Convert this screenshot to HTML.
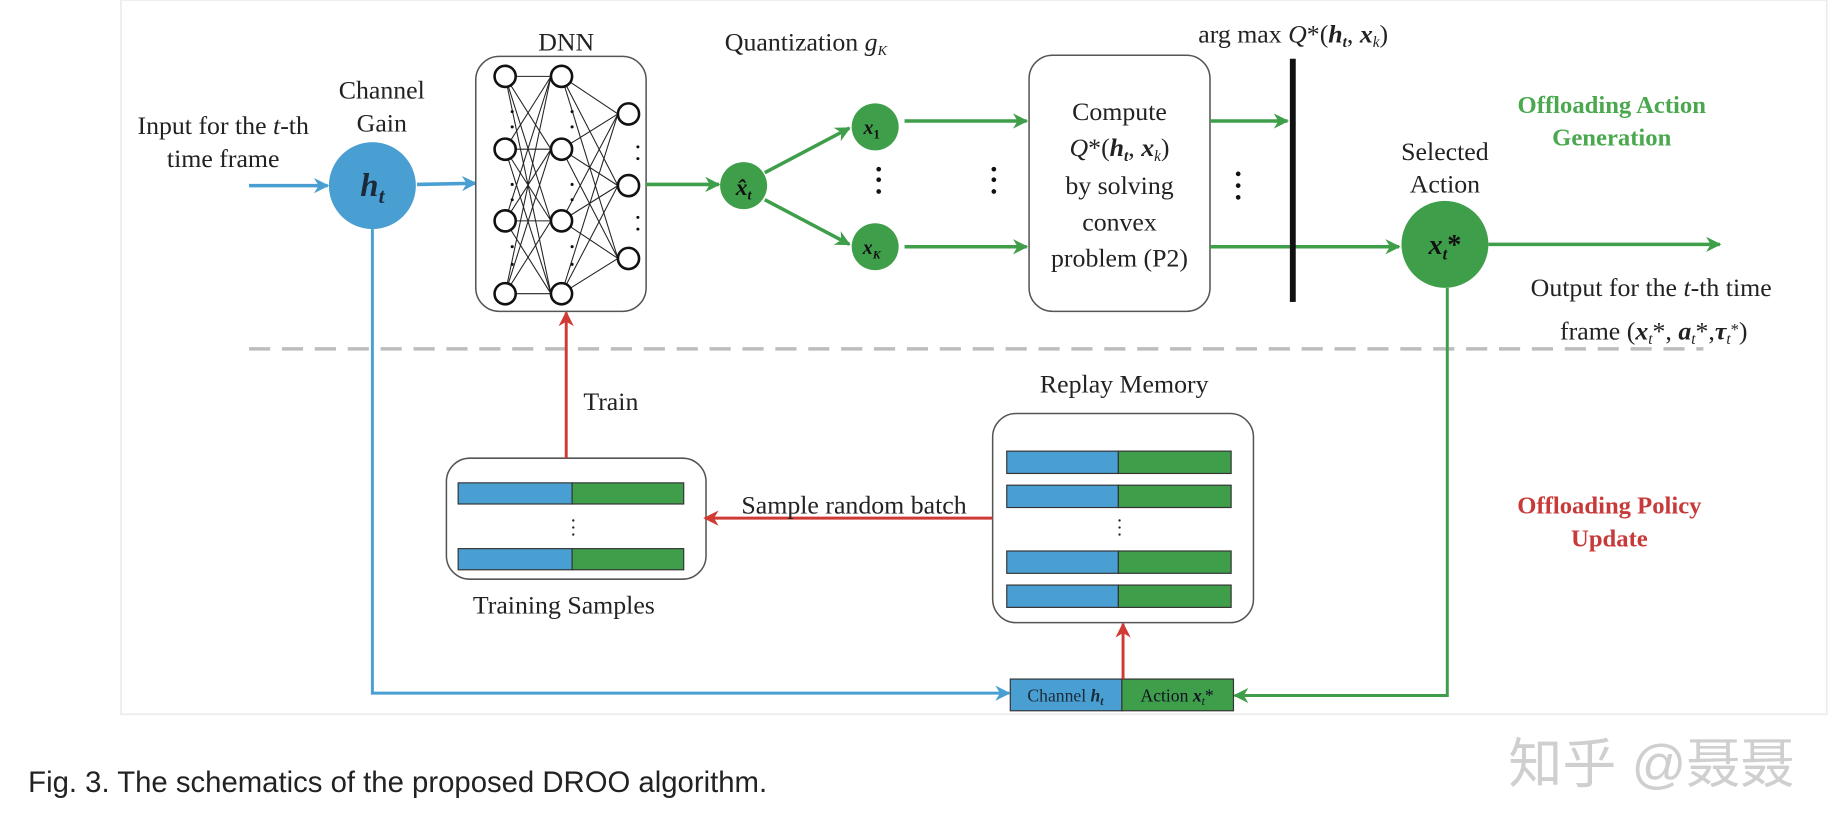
<!DOCTYPE html>
<html><head><meta charset="utf-8"><style>
html,body{margin:0;padding:0;background:#fff;width:1842px;height:840px;overflow:hidden}
svg{display:block}
.s{font-family:"Liberation Serif",serif;font-size:22px;fill:#222}
</style></head><body>
<svg width="1842" height="840" viewBox="0 0 1568 715" preserveAspectRatio="none" xmlns="http://www.w3.org/2000/svg">
<defs>
<marker id="ab" viewBox="0 0 10 10" refX="9" refY="5" markerWidth="13" markerHeight="14" orient="auto" markerUnits="userSpaceOnUse"><path d="M0,0L10,5L0,10L3,5z" fill="#4a9fd2"/></marker>
<marker id="ag" viewBox="0 0 10 10" refX="9" refY="5" markerWidth="13" markerHeight="14" orient="auto" markerUnits="userSpaceOnUse"><path d="M0,0L10,5L0,10L3,5z" fill="#3f9e4a"/></marker>
<marker id="ar" viewBox="0 0 10 10" refX="9" refY="5" markerWidth="13" markerHeight="14" orient="auto" markerUnits="userSpaceOnUse"><path d="M0,0L10,5L0,10L3,5z" fill="#d03a35"/></marker>
</defs>
<rect x="103" y="0" width="1452" height="608" fill="#fff" stroke="#ececec" stroke-width="1.5"/>
<!-- input -->
<text class="s" x="190" y="114" text-anchor="middle">Input for the <tspan font-style="italic">t</tspan>-th</text>
<text class="s" x="190" y="142" text-anchor="middle">time frame</text>
<line x1="212" y1="158" x2="279" y2="158" stroke="#4a9fd2" stroke-width="3" marker-end="url(#ab)"/>
<text class="s" x="325" y="84" text-anchor="middle">Channel</text>
<text class="s" x="325" y="112" text-anchor="middle">Gain</text>
<circle cx="317" cy="158" r="37" fill="#4a9fd2"/>
<text x="317" y="167" text-anchor="middle" font-family="Liberation Serif,serif" font-size="28" font-weight="bold" font-style="italic" fill="#1a2a3a">h<tspan font-size="18" dy="6">t</tspan></text>
<line x1="355" y1="157" x2="405" y2="156" stroke="#4a9fd2" stroke-width="3" marker-end="url(#ab)"/>
<!-- DNN -->
<text class="s" x="482" y="43" text-anchor="middle">DNN</text>
<rect x="405" y="48" width="145" height="217" rx="20" fill="#fff" stroke="#555" stroke-width="1.3"/>
<g stroke="#222" stroke-width="0.9">
<line x1="430" y1="65" x2="469" y2="65"/><line x1="430" y1="65" x2="469" y2="127"/><line x1="430" y1="65" x2="469" y2="188"/><line x1="430" y1="65" x2="469" y2="250"/>
<line x1="430" y1="127" x2="469" y2="65"/><line x1="430" y1="127" x2="469" y2="127"/><line x1="430" y1="127" x2="469" y2="188"/><line x1="430" y1="127" x2="469" y2="250"/>
<line x1="430" y1="188" x2="469" y2="65"/><line x1="430" y1="188" x2="469" y2="127"/><line x1="430" y1="188" x2="469" y2="188"/><line x1="430" y1="188" x2="469" y2="250"/>
<line x1="430" y1="250" x2="469" y2="65"/><line x1="430" y1="250" x2="469" y2="127"/><line x1="430" y1="250" x2="469" y2="188"/><line x1="430" y1="250" x2="469" y2="250"/>
<line x1="478" y1="65" x2="526" y2="97"/><line x1="478" y1="65" x2="526" y2="158"/><line x1="478" y1="65" x2="526" y2="220"/>
<line x1="478" y1="127" x2="526" y2="97"/><line x1="478" y1="127" x2="526" y2="158"/><line x1="478" y1="127" x2="526" y2="220"/>
<line x1="478" y1="188" x2="526" y2="97"/><line x1="478" y1="188" x2="526" y2="158"/><line x1="478" y1="188" x2="526" y2="220"/>
<line x1="478" y1="250" x2="526" y2="97"/><line x1="478" y1="250" x2="526" y2="158"/><line x1="478" y1="250" x2="526" y2="220"/>
</g>
<g fill="#fff" stroke="#111" stroke-width="2.2">
<circle cx="430" cy="65" r="9"/><circle cx="430" cy="127" r="9"/><circle cx="430" cy="188" r="9"/><circle cx="430" cy="250" r="9"/>
<circle cx="478" cy="65" r="9"/><circle cx="478" cy="127" r="9"/><circle cx="478" cy="188" r="9"/><circle cx="478" cy="250" r="9"/>
<circle cx="535" cy="97" r="9"/><circle cx="535" cy="158" r="9"/><circle cx="535" cy="220" r="9"/>
</g>
<g fill="#111">
<circle cx="436" cy="95" r="1.3"/><circle cx="436" cy="108" r="1.3"/><circle cx="436" cy="157" r="1.3"/><circle cx="436" cy="170" r="1.3"/><circle cx="436" cy="210" r="1.3"/><circle cx="436" cy="225" r="1.3"/>
<circle cx="487" cy="95" r="1.3"/><circle cx="487" cy="108" r="1.3"/><circle cx="487" cy="157" r="1.3"/><circle cx="487" cy="170" r="1.3"/><circle cx="487" cy="210" r="1.3"/><circle cx="487" cy="225" r="1.3"/>
<circle cx="543" cy="125" r="1.3"/><circle cx="543" cy="135" r="1.3"/><circle cx="543" cy="185" r="1.3"/><circle cx="543" cy="195" r="1.3"/>
</g>
<line x1="550" y1="157" x2="612" y2="157" stroke="#3f9e4a" stroke-width="3" marker-end="url(#ag)"/>
<!-- quantization -->
<text class="s" x="617" y="43">Quantization <tspan font-style="italic">g</tspan><tspan font-size="12" font-style="italic" dy="4">K</tspan></text>
<circle cx="633" cy="158" r="20" fill="#3f9e4a"/>
<text x="633" y="166" text-anchor="middle" font-family="Liberation Serif,serif" font-size="20" font-weight="bold" font-style="italic" fill="#111">x̂<tspan font-size="12" dy="4">t</tspan></text>
<line x1="651" y1="147" x2="723" y2="109" stroke="#3f9e4a" stroke-width="3" marker-end="url(#ag)"/>
<line x1="651" y1="170" x2="723" y2="208" stroke="#3f9e4a" stroke-width="3" marker-end="url(#ag)"/>
<circle cx="745" cy="108" r="20" fill="#3f9e4a"/>
<text x="742" y="114" text-anchor="middle" font-family="Liberation Serif,serif" font-size="17" font-weight="bold" font-style="italic" fill="#111">x<tspan font-size="11" font-style="normal" dy="4">1</tspan></text>
<circle cx="745" cy="210" r="20" fill="#3f9e4a"/>
<text x="742" y="216" text-anchor="middle" font-family="Liberation Serif,serif" font-size="17" font-weight="bold" font-style="italic" fill="#111">x<tspan font-size="10" dy="4">K</tspan></text>
<g fill="#111"><circle cx="748" cy="144" r="2"/><circle cx="748" cy="153" r="2"/><circle cx="748" cy="163" r="2"/>
<circle cx="846" cy="144" r="2"/><circle cx="846" cy="153" r="2"/><circle cx="846" cy="163" r="2"/>
<circle cx="1054" cy="148" r="2"/><circle cx="1054" cy="158" r="2"/><circle cx="1054" cy="168" r="2"/></g>
<line x1="770" y1="103" x2="874" y2="103" stroke="#3f9e4a" stroke-width="3" marker-end="url(#ag)"/>
<line x1="770" y1="210" x2="874" y2="210" stroke="#3f9e4a" stroke-width="3" marker-end="url(#ag)"/>
<!-- compute -->
<rect x="876" y="47" width="154" height="218" rx="20" fill="#fff" stroke="#555" stroke-width="1.3"/>
<text class="s" x="953" y="102" text-anchor="middle">Compute</text>
<text class="s" x="953" y="133" text-anchor="middle"><tspan font-style="italic">Q</tspan>*(<tspan font-style="italic" font-weight="bold">h</tspan><tspan font-size="13" font-weight="bold" font-style="italic" dy="4">t</tspan><tspan dy="-4">, </tspan><tspan font-style="italic" font-weight="bold">x</tspan><tspan font-size="13" font-style="italic" dy="4">k</tspan><tspan dy="-4">)</tspan></text>
<text class="s" x="953" y="165" text-anchor="middle">by solving</text>
<text class="s" x="953" y="196" text-anchor="middle">convex</text>
<text class="s" x="953" y="227" text-anchor="middle">problem (P2)</text>
<line x1="1030" y1="103" x2="1096" y2="103" stroke="#3f9e4a" stroke-width="3" marker-end="url(#ag)"/>
<line x1="1030" y1="210" x2="1191" y2="210" stroke="#3f9e4a" stroke-width="3" marker-end="url(#ag)"/>
<rect x="1098" y="50" width="5" height="207" fill="#111"/>
<text class="s" x="1020" y="36">arg max <tspan font-style="italic">Q</tspan>*(<tspan font-style="italic" font-weight="bold">h</tspan><tspan font-size="13" font-weight="bold" font-style="italic" dy="4">t</tspan><tspan dy="-4">, </tspan><tspan font-style="italic" font-weight="bold">x</tspan><tspan font-size="13" font-style="italic" dy="4">k</tspan><tspan dy="-4">)</tspan></text>
<!-- selected -->
<text class="s" x="1230" y="136" text-anchor="middle">Selected</text>
<text class="s" x="1230" y="164" text-anchor="middle">Action</text>
<circle cx="1230" cy="208" r="37" fill="#3f9e4a"/>
<text x="1230" y="216" text-anchor="middle" font-family="Liberation Serif,serif" font-size="24" font-weight="bold" font-style="italic" fill="#111">x<tspan font-size="14" dy="5">t</tspan><tspan dy="-5" font-style="normal">*</tspan></text>
<line x1="1267" y1="208" x2="1464" y2="208" stroke="#3f9e4a" stroke-width="3" marker-end="url(#ag)"/>
<text class="s" x="1303" y="252">Output for the <tspan font-style="italic">t</tspan>-th time</text>
<text class="s" x="1328" y="289">frame (<tspan font-weight="bold" font-style="italic">x</tspan><tspan font-size="13" font-style="italic" dy="4">t</tspan><tspan dy="-4">*, </tspan><tspan font-weight="bold" font-style="italic">a</tspan><tspan font-size="13" font-style="italic" dy="4">t</tspan><tspan dy="-4">*,</tspan><tspan font-weight="bold" font-style="italic">τ</tspan><tspan font-size="13" font-style="italic" dy="4">t</tspan><tspan dy="-8" font-size="14">*</tspan><tspan dy="4">)</tspan></text>
<text x="1372" y="96" text-anchor="middle" font-family="Liberation Serif,serif" font-size="21" font-weight="bold" fill="#4aa84e">Offloading Action</text>
<text x="1372" y="124" text-anchor="middle" font-family="Liberation Serif,serif" font-size="21" font-weight="bold" fill="#4aa84e">Generation</text>
<line x1="212" y1="297" x2="1450" y2="297" stroke="#bdbdbd" stroke-width="3" stroke-dasharray="18 10"/>
<!-- lower -->
<polyline points="317,195 317,590 859,590" fill="none" stroke="#4a9fd2" stroke-width="2.5" marker-end="url(#ab)"/>
<polyline points="1232,245 1232,592 1051,592" fill="none" stroke="#3f9e4a" stroke-width="2.5" marker-end="url(#ag)"/>
<rect x="860" y="578" width="95" height="27" fill="#4a9fd2" stroke="#333" stroke-width="1"/>
<rect x="955" y="578" width="95" height="27" fill="#3f9e4a" stroke="#333" stroke-width="1"/>
<text x="907" y="597" text-anchor="middle" font-family="Liberation Serif,serif" font-size="15" fill="#1a2a3a">Channel <tspan font-weight="bold" font-style="italic">h</tspan><tspan font-size="10" font-style="italic" font-weight="bold" dy="3">t</tspan></text>
<text x="1002" y="597" text-anchor="middle" font-family="Liberation Serif,serif" font-size="15" fill="#112">Action <tspan font-weight="bold" font-style="italic">x</tspan><tspan font-size="10" font-style="italic" dy="3">t</tspan><tspan dy="-3">*</tspan></text>
<line x1="956" y1="578" x2="956" y2="531" stroke="#d03a35" stroke-width="2.5" marker-end="url(#ar)"/>
<text class="s" x="957" y="334" text-anchor="middle">Replay Memory</text>
<rect x="845" y="352" width="222" height="178" rx="20" fill="#fff" stroke="#555" stroke-width="1.3"/>
<rect x="380" y="390" width="221" height="103" rx="20" fill="#fff" stroke="#555" stroke-width="1.3"/>
<g stroke="#333" stroke-width="1">
<rect x="857" y="384" width="95" height="19" fill="#4a9fd2"/><rect x="952" y="384" width="96" height="19" fill="#3f9e4a"/>
<rect x="857" y="413" width="95" height="19" fill="#4a9fd2"/><rect x="952" y="413" width="96" height="19" fill="#3f9e4a"/>
<rect x="857" y="469" width="95" height="19" fill="#4a9fd2"/><rect x="952" y="469" width="96" height="19" fill="#3f9e4a"/>
<rect x="857" y="498" width="95" height="19" fill="#4a9fd2"/><rect x="952" y="498" width="96" height="19" fill="#3f9e4a"/>
<rect x="390" y="411" width="97" height="18" fill="#4a9fd2"/><rect x="487" y="411" width="95" height="18" fill="#3f9e4a"/>
<rect x="390" y="467" width="97" height="18" fill="#4a9fd2"/><rect x="487" y="467" width="95" height="18" fill="#3f9e4a"/>
</g>
<g fill="#222"><circle cx="953" cy="443" r="1"/><circle cx="953" cy="449" r="1"/><circle cx="953" cy="455" r="1"/>
<circle cx="488" cy="443" r="1"/><circle cx="488" cy="449" r="1"/><circle cx="488" cy="455" r="1"/></g>
<line x1="845" y1="441" x2="600" y2="441" stroke="#d03a35" stroke-width="2.5" marker-end="url(#ar)"/>
<text class="s" x="727" y="437" text-anchor="middle">Sample random batch</text>
<text class="s" x="480" y="522" text-anchor="middle">Training Samples</text>
<line x1="482" y1="390" x2="482" y2="266" stroke="#d03a35" stroke-width="2.5" marker-end="url(#ar)"/>
<text class="s" x="520" y="349" text-anchor="middle">Train</text>
<text x="1370" y="437" text-anchor="middle" font-family="Liberation Serif,serif" font-size="21" font-weight="bold" fill="#c83a3a">Offloading Policy</text>
<text x="1370" y="465" text-anchor="middle" font-family="Liberation Serif,serif" font-size="21" font-weight="bold" fill="#c83a3a">Update</text>
<!-- caption -->
<text x="24" y="674" font-family="Liberation Sans,sans-serif" font-size="25" fill="#222" textLength="629" lengthAdjust="spacingAndGlyphs">Fig. 3. The schematics of the proposed DROO algorithm.</text>
<text x="1284" y="666" font-family="Liberation Sans,'Noto Sans CJK SC',sans-serif" font-size="46" fill="#cfcfcf">知乎 @聂聂</text>
</svg>
</body></html>
